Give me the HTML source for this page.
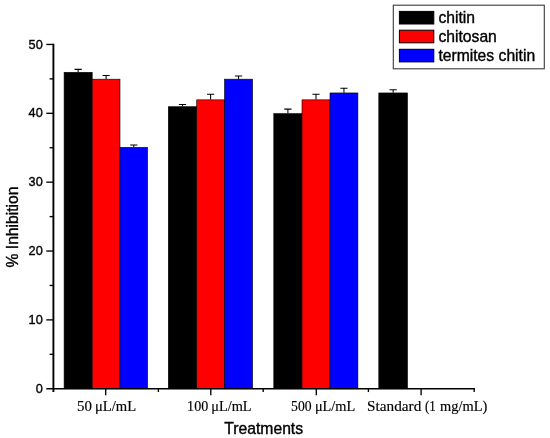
<!DOCTYPE html>
<html><head><meta charset="utf-8"><title>Inhibition chart</title>
<style>html,body{margin:0;padding:0;background:#fff}svg{display:block}text{font-family:"Liberation Sans",Arial,sans-serif;fill:#000;stroke:#000;stroke-width:.38px}.s{font-family:"Liberation Serif","Times New Roman",serif;fill:#000;stroke-width:.15px}</style></head><body>
<svg width="550" height="438" viewBox="0 0 550 438">
<rect width="550" height="438" fill="#fff"/>
<rect x="64.10" y="72.29" width="28.10" height="316.46" fill="#000000" stroke="#000" stroke-width="0.6"/>
<path d="M78.15 71.99V69.39M74.55 69.39H81.75" stroke="#000" stroke-width="1.05" fill="none"/>
<rect x="92.20" y="79.18" width="27.80" height="309.57" fill="#ff0000" stroke="#000" stroke-width="0.6"/>
<path d="M106.10 78.88V75.58M102.50 75.58H109.70" stroke="#000" stroke-width="1.05" fill="none"/>
<rect x="120.00" y="147.35" width="27.60" height="241.40" fill="#0000ff" stroke="#000" stroke-width="0.6"/>
<path d="M133.80 147.05V145.05M130.20 145.05H137.40" stroke="#000" stroke-width="1.05" fill="none"/>
<rect x="168.30" y="106.72" width="28.40" height="282.03" fill="#000000" stroke="#000" stroke-width="0.6"/>
<path d="M182.50 106.42V104.42M178.90 104.42H186.10" stroke="#000" stroke-width="1.05" fill="none"/>
<rect x="196.70" y="99.84" width="27.80" height="288.91" fill="#ff0000" stroke="#000" stroke-width="0.6"/>
<path d="M210.60 99.54V94.34M207.00 94.34H214.20" stroke="#000" stroke-width="1.05" fill="none"/>
<rect x="224.50" y="79.18" width="28.10" height="309.57" fill="#0000ff" stroke="#000" stroke-width="0.6"/>
<path d="M238.55 78.88V76.08M234.95 76.08H242.15" stroke="#000" stroke-width="1.05" fill="none"/>
<rect x="273.80" y="113.61" width="28.20" height="275.14" fill="#000000" stroke="#000" stroke-width="0.6"/>
<path d="M287.90 113.31V109.11M284.30 109.11H291.50" stroke="#000" stroke-width="1.05" fill="none"/>
<rect x="302.00" y="99.84" width="28.00" height="288.91" fill="#ff0000" stroke="#000" stroke-width="0.6"/>
<path d="M316.00 99.54V94.34M312.40 94.34H319.60" stroke="#000" stroke-width="1.05" fill="none"/>
<rect x="330.00" y="92.95" width="27.90" height="295.80" fill="#0000ff" stroke="#000" stroke-width="0.6"/>
<path d="M343.95 92.65V88.15M340.35 88.15H347.55" stroke="#000" stroke-width="1.05" fill="none"/>
<rect x="378.80" y="92.95" width="28.70" height="295.80" fill="#000000" stroke="#000" stroke-width="0.6"/>
<path d="M393.15 92.65V89.65M389.55 89.65H396.75" stroke="#000" stroke-width="1.05" fill="none"/>
<path d="M53.40 43.80V392.05" stroke="#000" stroke-width="1.9" fill="none"/>
<path d="M46.30 388.75H474.9" stroke="#000" stroke-width="1.6" fill="none"/>
<text transform="translate(42.80 392.85) scale(0.93 1)" font-size="13.7" text-anchor="end">0</text>
<path d="M49.60 354.32H53.40" stroke="#000" stroke-width="1.35"/>
<path d="M46.30 319.89H53.40" stroke="#000" stroke-width="1.35"/>
<text transform="translate(42.80 323.99) scale(0.93 1)" font-size="13.7" text-anchor="end">10</text>
<path d="M49.60 285.46H53.40" stroke="#000" stroke-width="1.35"/>
<path d="M46.30 251.03H53.40" stroke="#000" stroke-width="1.35"/>
<text transform="translate(42.80 255.13) scale(0.93 1)" font-size="13.7" text-anchor="end">20</text>
<path d="M49.60 216.60H53.40" stroke="#000" stroke-width="1.35"/>
<path d="M46.30 182.17H53.40" stroke="#000" stroke-width="1.35"/>
<text transform="translate(42.80 186.27) scale(0.93 1)" font-size="13.7" text-anchor="end">30</text>
<path d="M49.60 147.74H53.40" stroke="#000" stroke-width="1.35"/>
<path d="M46.30 113.31H53.40" stroke="#000" stroke-width="1.35"/>
<text transform="translate(42.80 117.41) scale(0.93 1)" font-size="13.7" text-anchor="end">40</text>
<path d="M49.60 78.88H53.40" stroke="#000" stroke-width="1.35"/>
<path d="M46.30 44.45H53.40" stroke="#000" stroke-width="1.35"/>
<text transform="translate(42.80 48.55) scale(0.93 1)" font-size="13.7" text-anchor="end">50</text>
<path d="M105.70 388.75V395.25" stroke="#000" stroke-width="1.35"/>
<path d="M210.80 388.75V395.25" stroke="#000" stroke-width="1.35"/>
<path d="M316.30 388.75V395.25" stroke="#000" stroke-width="1.35"/>
<path d="M421.10 388.75V395.25" stroke="#000" stroke-width="1.35"/>
<path d="M158.40 388.75V392.05" stroke="#000" stroke-width="1.35"/>
<path d="M263.20 388.75V392.05" stroke="#000" stroke-width="1.35"/>
<path d="M368.40 388.75V392.05" stroke="#000" stroke-width="1.35"/>
<path d="M474.20 388.75V392.05" stroke="#000" stroke-width="1.35"/>
<text class="s" x="77.1" y="410.8" font-size="14" textLength="14.9" lengthAdjust="spacingAndGlyphs">50</text>
<text class="s" x="95.0" y="410.8" font-size="14" textLength="41.2" lengthAdjust="spacingAndGlyphs">μL/mL</text>
<text class="s" x="187.1" y="410.8" font-size="14" textLength="21.1" lengthAdjust="spacingAndGlyphs">100</text>
<text class="s" x="211.2" y="410.8" font-size="14" textLength="40.4" lengthAdjust="spacingAndGlyphs">μL/mL</text>
<text class="s" x="291.1" y="410.8" font-size="14" textLength="20.5" lengthAdjust="spacingAndGlyphs">500</text>
<text class="s" x="314.9" y="410.8" font-size="14" textLength="40.3" lengthAdjust="spacingAndGlyphs">μL/mL</text>
<text class="s" x="367.1" y="410.8" font-size="14" textLength="54.2" lengthAdjust="spacingAndGlyphs">Standard</text>
<text class="s" x="424.9" y="410.8" font-size="14" textLength="10.8" lengthAdjust="spacingAndGlyphs">(1</text>
<text class="s" x="440.1" y="410.8" font-size="14" textLength="47.2" lengthAdjust="spacingAndGlyphs">mg/mL)</text>
<text x="263.7" y="433.8" font-size="15.7" text-anchor="middle">Treatments</text>
<text transform="translate(17.9 227) rotate(-90)" font-size="16.3" text-anchor="middle" textLength="81" lengthAdjust="spacingAndGlyphs">% Inhibition</text>
<rect x="393.3" y="5.2" width="151" height="63.6" fill="#fff" stroke="#3a3a3a" stroke-width="1.1"/>
<rect x="399.4" y="11.4" width="34.4" height="12.6" fill="#000000" stroke="#000" stroke-width="1"/>
<text transform="translate(438.4 23.1) scale(0.975 1)" font-size="16.1">chitin</text>
<rect x="399.4" y="30.2" width="34.4" height="12.6" fill="#ff0000" stroke="#000" stroke-width="1"/>
<text transform="translate(438.4 41.9) scale(0.975 1)" font-size="16.1">chitosan</text>
<rect x="399.4" y="49.3" width="34.4" height="12.6" fill="#0000ff" stroke="#000" stroke-width="1"/>
<text transform="translate(438.4 61.4) scale(0.975 1)" font-size="16.1">termites chitin</text>
</svg></body></html>
